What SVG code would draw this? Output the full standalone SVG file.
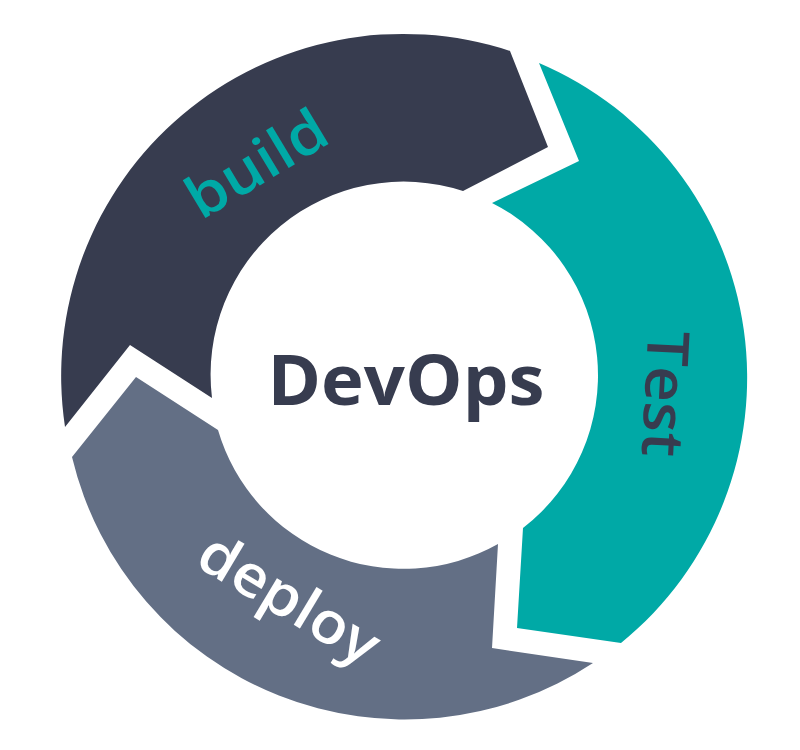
<svg xmlns="http://www.w3.org/2000/svg" width="800" height="750" viewBox="0 0 800 750">
<style>
.lbl{font-family:"Open Sans","Liberation Sans",sans-serif;font-weight:600;font-size:58px;text-anchor:middle}
.title{font-family:"Open Sans","Liberation Sans",sans-serif;font-weight:700;font-size:69px;text-anchor:middle;fill:#373c4f}
</style>
<rect width="800" height="750" fill="#ffffff"/>
<g id="build">
<path d="M65,427 A342,342 0 0 1 510,51 L548,147 L463,191 A193,193 0 0 0 212,398 L130,345 Z" fill="#373c4f"/>
<text class="lbl" fill="#00a9a6" transform="translate(267,181) rotate(-31)" textLength="154" lengthAdjust="spacingAndGlyphs">build</text>
</g>
<g id="test">
<path d="M539,63 A342,342 0 0 1 621,643 L517,628 L523,528 A193,193 0 0 0 492,203 L579,161 Z" fill="#00a9a6"/>
<text class="lbl" fill="#373c4f" transform="translate(645,393) rotate(93)" textLength="126" lengthAdjust="spacingAndGlyphs">Test</text>
</g>
<g id="deploy">
<path d="M593,663 A342,342 0 0 1 72,457 L136,377 L218,430 A193,193 0 0 0 498,544 L492,648 Z" fill="#636f85"/>
<text class="lbl" fill="#ffffff" transform="translate(279,616) rotate(31)" textLength="200" lengthAdjust="spacingAndGlyphs">deploy</text>
</g>
<g id="devops">
<text class="title" x="406" y="405" textLength="277" lengthAdjust="spacingAndGlyphs">DevOps</text>
</g>
<g id="connectors"></g>
</svg>
